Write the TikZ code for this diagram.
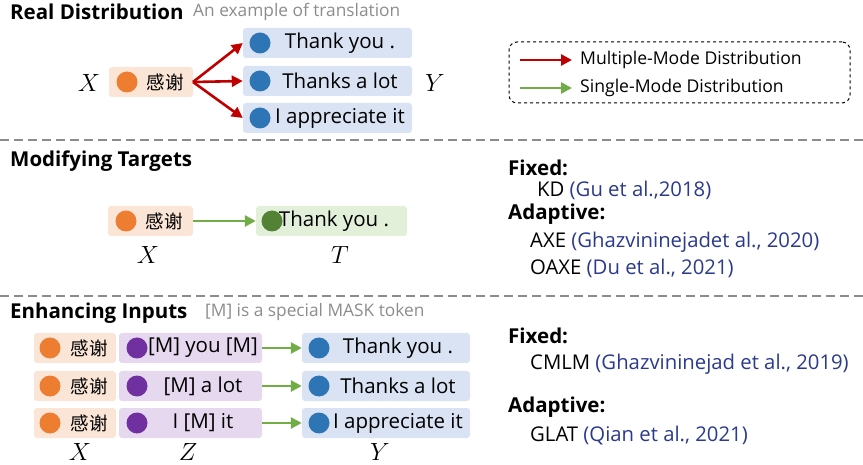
\documentclass[tikz,border=0pt]{standalone}
\usepackage{fontspec}
\setmainfont{Open Sans}
\newfontfamily\cjk{Noto Sans CJK SC}
\usetikzlibrary{arrows.meta}
\definecolor{obox}{HTML}{FBE5D6}\definecolor{odot}{HTML}{ED7D31}
\definecolor{bbox}{HTML}{DAE3F3}\definecolor{bdot}{HTML}{2E75B6}
\definecolor{pbox}{HTML}{E6D8EE}\definecolor{pdot}{HTML}{7030A0}
\definecolor{gbox}{HTML}{E2F0D9}\definecolor{gdot}{HTML}{548235}
\definecolor{garr}{HTML}{70AD47}\definecolor{rarr}{HTML}{C00000}
\definecolor{cite}{HTML}{2B3A8C}\definecolor{sub}{HTML}{8C8C8C}
\begin{document}
\begin{tikzpicture}[x=1pt,y=-1pt,
 box/.style={rounded corners=3pt,minimum height=30pt,inner sep=0pt},
 dot/.style={circle,minimum size=21pt,inner sep=0pt},
 txt/.style={font=\fontsize{20.5}{24}\selectfont,inner sep=0pt},
 cj/.style={font=\fontsize{18.5}{22}\cjk,inner sep=0pt},
 ttl/.style={font=\fontsize{20.5}{24}\selectfont\bfseries,anchor=west,inner sep=0pt},
 subt/.style={font=\fontsize{17.3}{20}\selectfont,text=sub,anchor=west,inner sep=0pt},
 var/.style={font=\fontsize{27}{30}\selectfont,inner sep=0pt},
 rt/.style={font=\fontsize{20.3}{24}\selectfont,anchor=west,inner sep=0pt},
 rtb/.style={font=\fontsize{20.5}{24}\selectfont\bfseries,anchor=west,inner sep=0pt},
 lt/.style={font=\fontsize{17.6}{20}\selectfont,anchor=west,inner sep=0pt},
 rarrow/.style={draw=rarr,line width=2.6pt,-{Triangle[length=11pt,width=11pt]}},
 garrow/.style={draw=garr,line width=2.6pt,-{Triangle[length=11pt,width=11pt]}},
 sep/.style={draw=black!45,line width=2pt,dash pattern=on 9pt off 5pt}]
\useasboundingbox (0,0) rectangle (863,465);
% ---- Real distribution
\node[ttl] (t1) at (10,12) {Real Distribution};
\node[subt] (s1) at (193,12) {An example of translation};
\node[var] (x1) at (89,83) {$X$};
\node[box,fill=obox,minimum width=84pt] (o1) at (151,82) {};
\node[dot,fill=odot] (od1) at (127,82) {};
\node[cj] (c1) at (165,82) {感谢};
\foreach \y/\t [count=\i] in {43/Thank you .,81/Thanks a lot,118/I appreciate it}{
 \node[box,fill=bbox,minimum width=169pt] (b\i) at (327.5,\y) {};
 \node[dot,fill=bdot] (bd\i) at (260,\y) {};
 \node[txt] (bt\i) at (340,\y) {\t};
}
\node[var] (y1) at (435,83) {$Y$};
\coordinate (f1) at (193,82);
\foreach \i in {1,2,3}{\draw[rarrow] (f1) -- (b\i.west);}
% legend
\node[draw,dashed,rounded corners=8pt,line width=1pt,minimum width=341pt,minimum height=61pt,inner sep=0pt] (leg) at (679.5,72.5) {};
\coordinate (la1) at (520,60);\coordinate (lb1) at (572,60);
\coordinate (la2) at (520,88);\coordinate (lb2) at (572,88);
\draw[rarrow] (la1) -- (lb1);\draw[garrow] (la2) -- (lb2);
\node[lt] (l1) at (580,60) {Multiple-Mode Distribution};
\node[lt] (l2) at (580,88) {Single-Mode Distribution};
\coordinate (d1a) at (0,140);\coordinate (d1b) at (863,140);
\draw[sep] (d1a) -- (d1b);
% ---- Modifying targets
\node[ttl] (t2) at (10,161) {Modifying Targets};
\node[box,fill=obox,minimum width=85pt] (o2) at (150.5,221) {};
\node[dot,fill=odot] (od2) at (126,221) {};
\node[cj] (c2) at (164,221) {感谢};
\node[box,fill=gbox,minimum width=151pt] (g2) at (331.5,221) {};
\node[dot,fill=gdot] (gd2) at (272,221) {};
\node[txt] (gt2) at (334,221) {Thank you .};
\draw[garrow] (o2.east) -- (g2.west);
\node[var] (x2) at (148,255) {$X$};
\node[var] (tt2) at (340,255) {$T$};
\node[rtb] (f2) at (508,168) {Fixed:};
\node[rt] (k2) at (537,190) {KD \textcolor{cite}{(Gu et al.,2018)}};
\node[rtb] (a2) at (508,214) {Adaptive:};
\node[rt] (k3) at (530,242) {AXE \textcolor{cite}{(Ghazvininejadet al., 2020)}};
\node[rt] (k4) at (530,268) {OAXE \textcolor{cite}{(Du et al., 2021)}};
\coordinate (d2a) at (0,296);\coordinate (d2b) at (863,296);
\draw[sep] (d2a) -- (d2b);
% ---- Enhancing inputs
\node[ttl] (t3) at (10,313) {Enhancing Inputs};
\node[subt] (s3) at (205,312) {[M] is a special MASK token};
\foreach \y/\z/\t [count=\i] in {348/{[M] you [M]}/Thank you .,386/{[M] a lot}/Thanks a lot,423/{I [M] it}/I appreciate it}{
 \node[box,fill=obox,minimum width=82pt] (eo\i) at (75,\y) {};
 \node[dot,fill=odot] (eod\i) at (50,\y) {};
 \node[cj] (ec\i) at (89,\y) {感谢};
 \node[box,fill=pbox,minimum width=143pt] (ep\i) at (190.5,\y) {};
 \node[dot,fill=pdot] (epd\i) at (137,\y) {};
 \node[txt] (ept\i) at (203,\y) {\z};
 \node[box,fill=bbox,minimum width=168pt] (eb\i) at (386,\y) {};
 \node[dot,fill=bdot] (ebd\i) at (319,\y) {};
 \node[txt] (ebt\i) at (398,\y) {\t};
 \draw[garrow] (ep\i.east) -- (eb\i.west);
}
\node[var] (x3) at (80,452) {$X$};
\node[var] (z3) at (188,452) {$Z$};
\node[var] (y3) at (380,452) {$Y$};
\node[rtb] (f3) at (508,336) {Fixed:};
\node[rt] (k5) at (530,364) {CMLM \textcolor{cite}{(Ghazvininejad et al., 2019)}};
\node[rtb] (a3) at (508,407) {Adaptive:};
\node[rt] (k6) at (530,436) {GLAT \textcolor{cite}{(Qian et al., 2021)}};
\end{tikzpicture}
\end{document}
